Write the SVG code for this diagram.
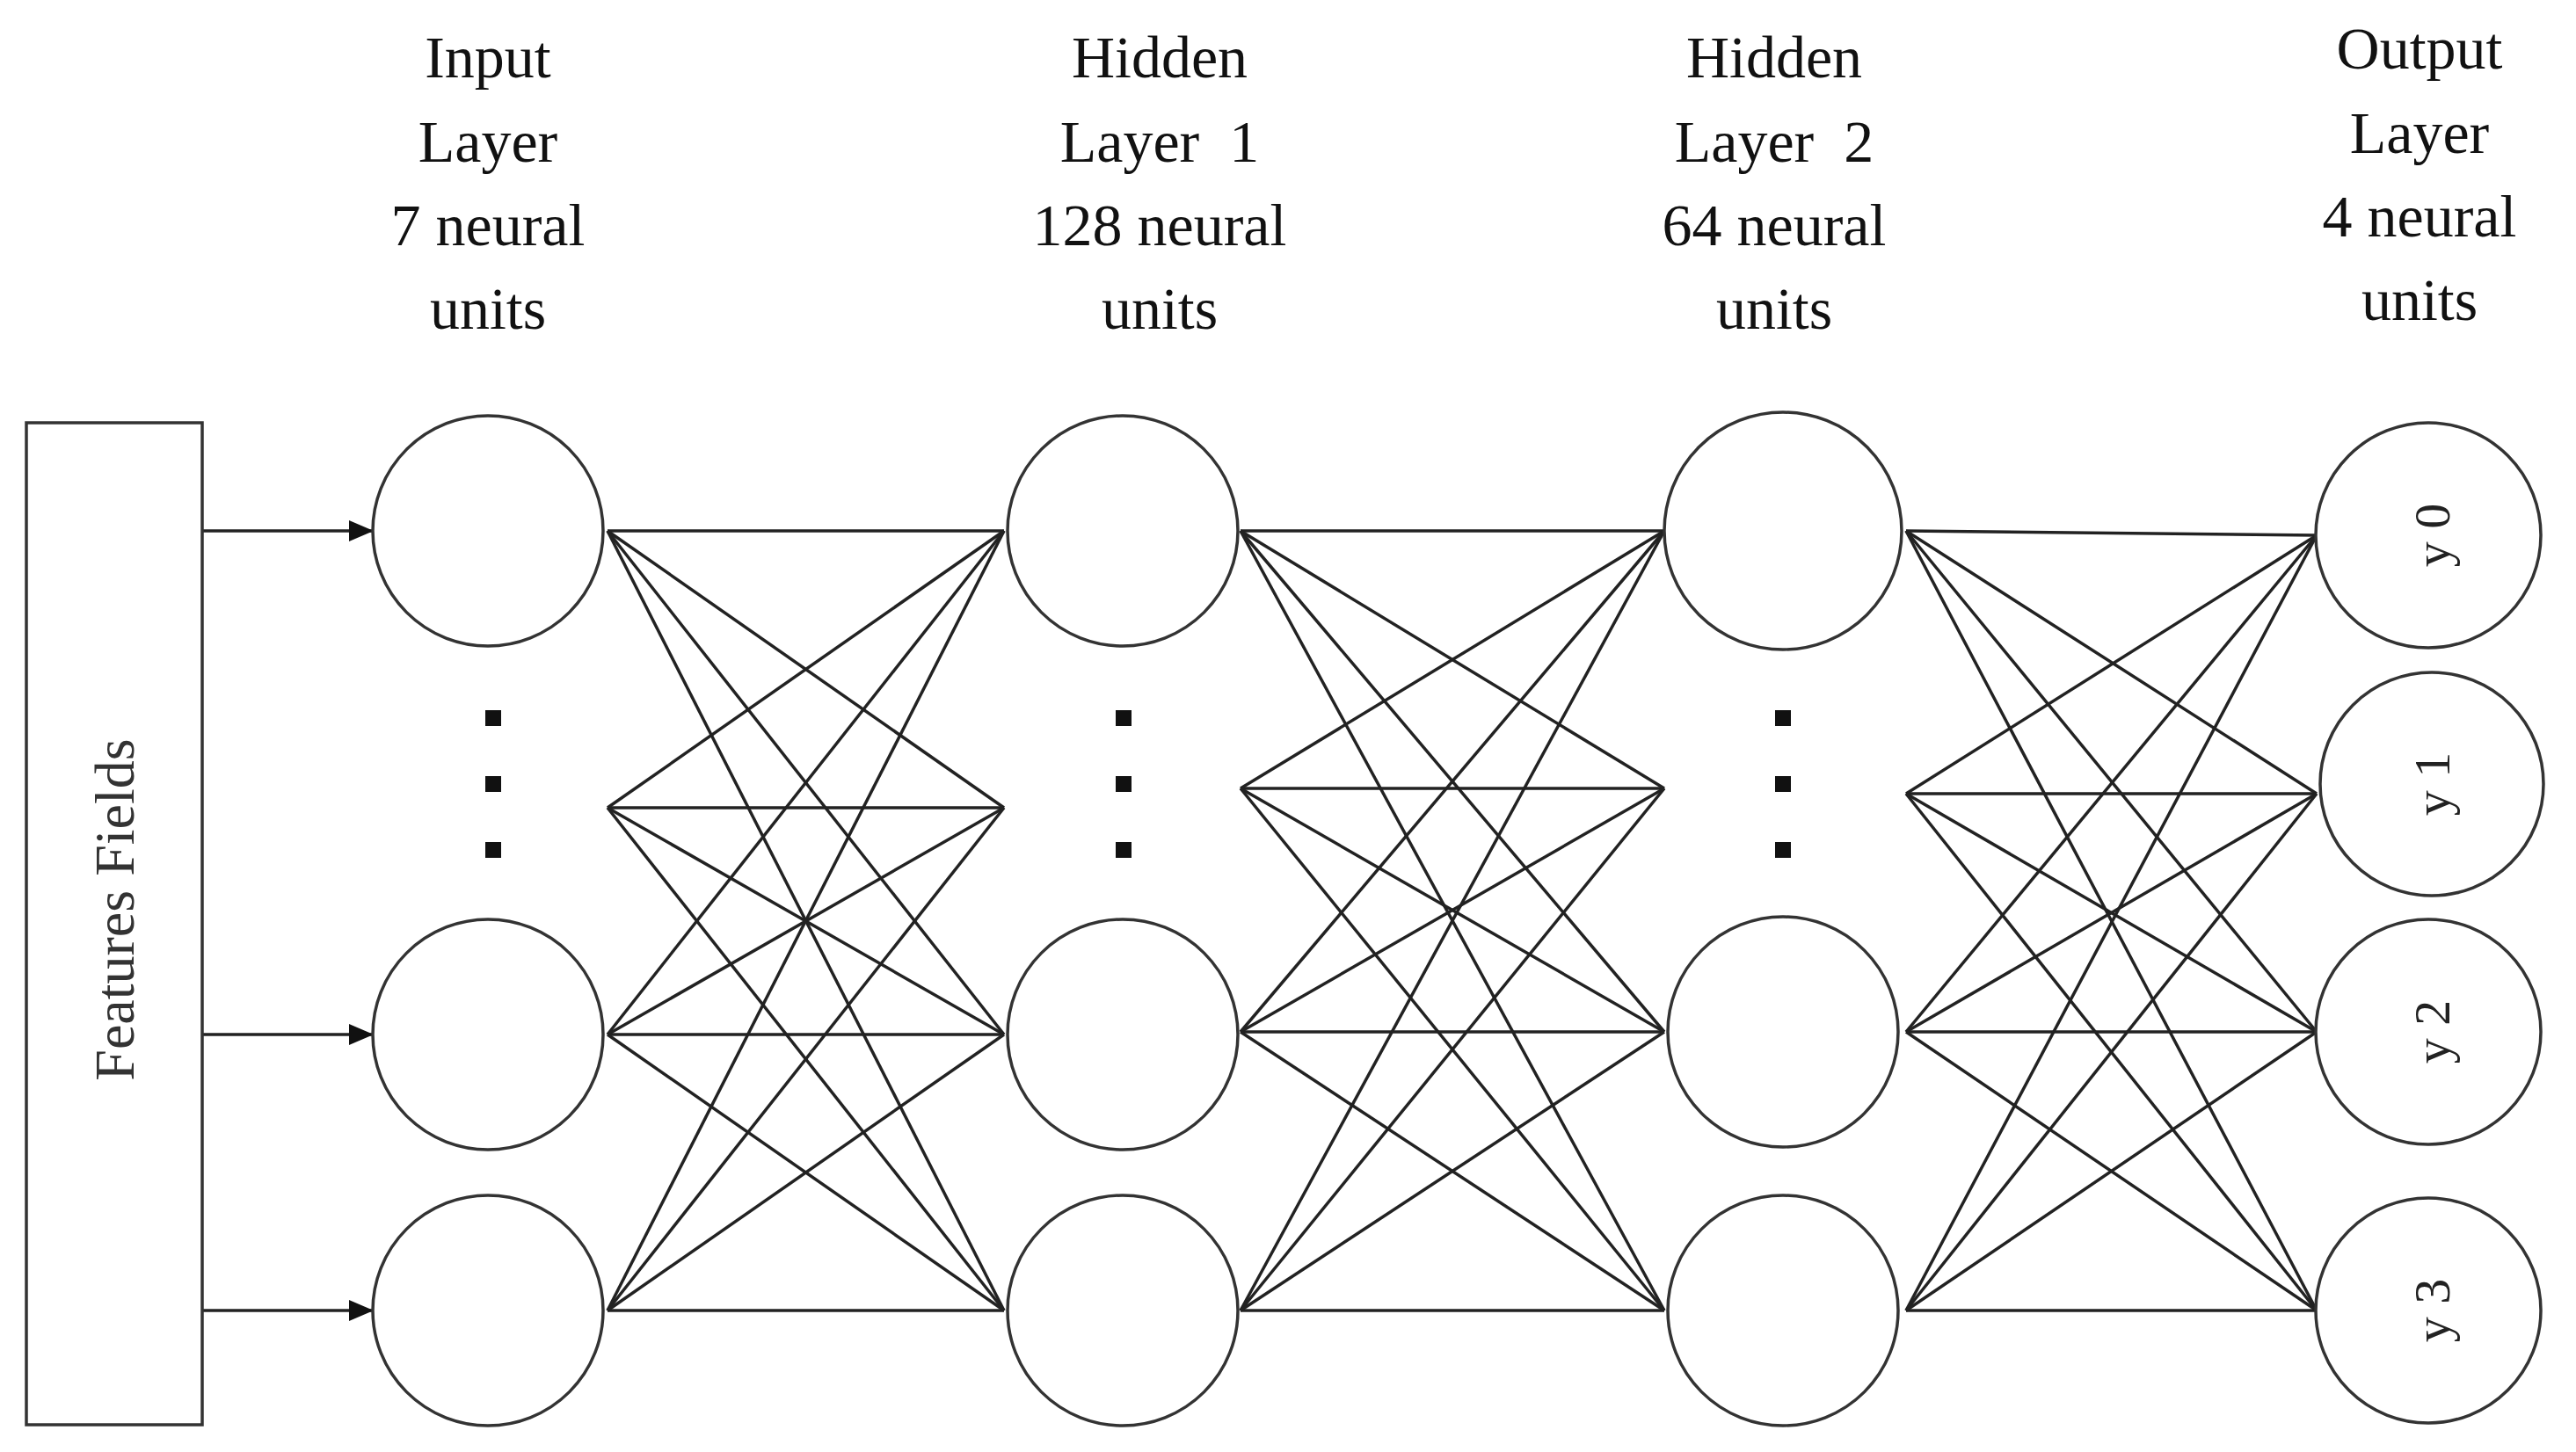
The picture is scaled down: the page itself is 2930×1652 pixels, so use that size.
<svg xmlns="http://www.w3.org/2000/svg" width="2930" height="1652" viewBox="0 0 2930 1652">
<style>
.t{font-family:"Liberation Serif",serif;font-size:68px;fill:#111;text-anchor:middle;white-space:pre}
.n{fill:#fff;stroke:#333;stroke-width:3.5}
.c line{stroke:#222;stroke-width:3.5}
.d{fill:#111}
.y{font-family:"Liberation Serif",serif;font-size:58px;fill:#222;text-anchor:middle}
</style>
<defs><marker id="ah" markerWidth="28" markerHeight="24" refX="27" refY="12" orient="auto" markerUnits="userSpaceOnUse" viewBox="0 0 28 24"><path d="M0,0L28,12L0,24z" fill="#111"/></marker></defs>
<rect width="2930" height="1652" fill="#fff"/>
<g id="labels">
<text class="t" x="555" y="88">Input</text><text class="t" x="555" y="184">Layer</text><text class="t" x="555" y="279">7 neural</text><text class="t" x="555" y="374">units</text>
<text class="t" x="1319" y="88">Hidden</text><text class="t" x="1319" y="184">Layer  1</text><text class="t" x="1319" y="279">128 neural</text><text class="t" x="1319" y="374">units</text>
<text class="t" x="2018" y="88">Hidden</text><text class="t" x="2018" y="184">Layer  2</text><text class="t" x="2018" y="279">64 neural</text><text class="t" x="2018" y="374">units</text>
<text class="t" x="2752" y="78">Output</text><text class="t" x="2752" y="174">Layer</text><text class="t" x="2752" y="269">4 neural</text><text class="t" x="2752" y="364">units</text>
</g>
<g id="connectors" class="c">
<line x1="230" y1="604" x2="424" y2="604" marker-end="url(#ah)"/>
<line x1="230" y1="1177" x2="424" y2="1177" marker-end="url(#ah)"/>
<line x1="230" y1="1491" x2="424" y2="1491" marker-end="url(#ah)"/>
<g>
<line x1="691" y1="604" x2="1142" y2="604"/><line x1="691" y1="604" x2="1142" y2="919"/><line x1="691" y1="604" x2="1142" y2="1177"/><line x1="691" y1="604" x2="1142" y2="1491"/>
<line x1="691" y1="919" x2="1142" y2="604"/><line x1="691" y1="919" x2="1142" y2="919"/><line x1="691" y1="919" x2="1142" y2="1177"/><line x1="691" y1="919" x2="1142" y2="1491"/>
<line x1="691" y1="1177" x2="1142" y2="604"/><line x1="691" y1="1177" x2="1142" y2="919"/><line x1="691" y1="1177" x2="1142" y2="1177"/><line x1="691" y1="1177" x2="1142" y2="1491"/>
<line x1="691" y1="1491" x2="1142" y2="604"/><line x1="691" y1="1491" x2="1142" y2="919"/><line x1="691" y1="1491" x2="1142" y2="1177"/><line x1="691" y1="1491" x2="1142" y2="1491"/>
</g>
<g>
<line x1="1411" y1="604" x2="1893" y2="604"/><line x1="1411" y1="604" x2="1893" y2="897"/><line x1="1411" y1="604" x2="1893" y2="1174"/><line x1="1411" y1="604" x2="1893" y2="1491"/>
<line x1="1411" y1="897" x2="1893" y2="604"/><line x1="1411" y1="897" x2="1893" y2="897"/><line x1="1411" y1="897" x2="1893" y2="1174"/><line x1="1411" y1="897" x2="1893" y2="1491"/>
<line x1="1411" y1="1174" x2="1893" y2="604"/><line x1="1411" y1="1174" x2="1893" y2="897"/><line x1="1411" y1="1174" x2="1893" y2="1174"/><line x1="1411" y1="1174" x2="1893" y2="1491"/>
<line x1="1411" y1="1491" x2="1893" y2="604"/><line x1="1411" y1="1491" x2="1893" y2="897"/><line x1="1411" y1="1491" x2="1893" y2="1174"/><line x1="1411" y1="1491" x2="1893" y2="1491"/>
</g>
<g>
<line x1="2168" y1="604" x2="2635" y2="609"/><line x1="2168" y1="604" x2="2635" y2="903"/><line x1="2168" y1="604" x2="2635" y2="1174"/><line x1="2168" y1="604" x2="2635" y2="1491"/>
<line x1="2168" y1="903" x2="2635" y2="609"/><line x1="2168" y1="903" x2="2635" y2="903"/><line x1="2168" y1="903" x2="2635" y2="1174"/><line x1="2168" y1="903" x2="2635" y2="1491"/>
<line x1="2168" y1="1174" x2="2635" y2="609"/><line x1="2168" y1="1174" x2="2635" y2="903"/><line x1="2168" y1="1174" x2="2635" y2="1174"/><line x1="2168" y1="1174" x2="2635" y2="1491"/>
<line x1="2168" y1="1491" x2="2635" y2="609"/><line x1="2168" y1="1491" x2="2635" y2="903"/><line x1="2168" y1="1491" x2="2635" y2="1174"/><line x1="2168" y1="1491" x2="2635" y2="1491"/>
</g>
</g>
<g id="features"><rect x="30" y="481" width="200" height="1140" fill="#fff" stroke="#333" stroke-width="3.5"/>
<text class="t" transform="translate(152,1035) rotate(-90)" style="font-size:64px;fill:#333">Features Fields</text></g>
<g id="input">
<circle class="n" cx="555" cy="604" r="131"/><circle class="n" cx="555" cy="1177" r="131"/><circle class="n" cx="555" cy="1491" r="131"/>
<rect class="d" x="552" y="808" width="18" height="18"/><rect class="d" x="552" y="883" width="18" height="18"/><rect class="d" x="552" y="958" width="18" height="18"/>
</g>
<g id="hidden1">
<circle class="n" cx="1277" cy="604" r="131"/><circle class="n" cx="1277" cy="1177" r="131"/><circle class="n" cx="1277" cy="1491" r="131"/>
<rect class="d" x="1269" y="808" width="18" height="18"/><rect class="d" x="1269" y="883" width="18" height="18"/><rect class="d" x="1269" y="958" width="18" height="18"/>
</g>
<g id="hidden2">
<circle class="n" cx="2028" cy="604" r="135"/><circle class="n" cx="2028" cy="1174" r="131"/><circle class="n" cx="2028" cy="1491" r="131"/>
<rect class="d" x="2019" y="808" width="18" height="18"/><rect class="d" x="2019" y="883" width="18" height="18"/><rect class="d" x="2019" y="958" width="18" height="18"/>
</g>
<g id="output">
<circle class="n" cx="2762" cy="609" r="128"/><circle class="n" cx="2766" cy="892" r="127" stroke-width="2.5"/><circle class="n" cx="2762" cy="1174" r="128"/><circle class="n" cx="2762" cy="1491" r="128"/>
<text class="y" transform="translate(2766,609) rotate(-90)" dy="20">y 0</text>
<text class="y" transform="translate(2766,892) rotate(-90)" dy="20">y 1</text>
<text class="y" transform="translate(2766,1174) rotate(-90)" dy="20">y 2</text>
<text class="y" transform="translate(2766,1491) rotate(-90)" dy="20">y 3</text>
</g>
</svg>
